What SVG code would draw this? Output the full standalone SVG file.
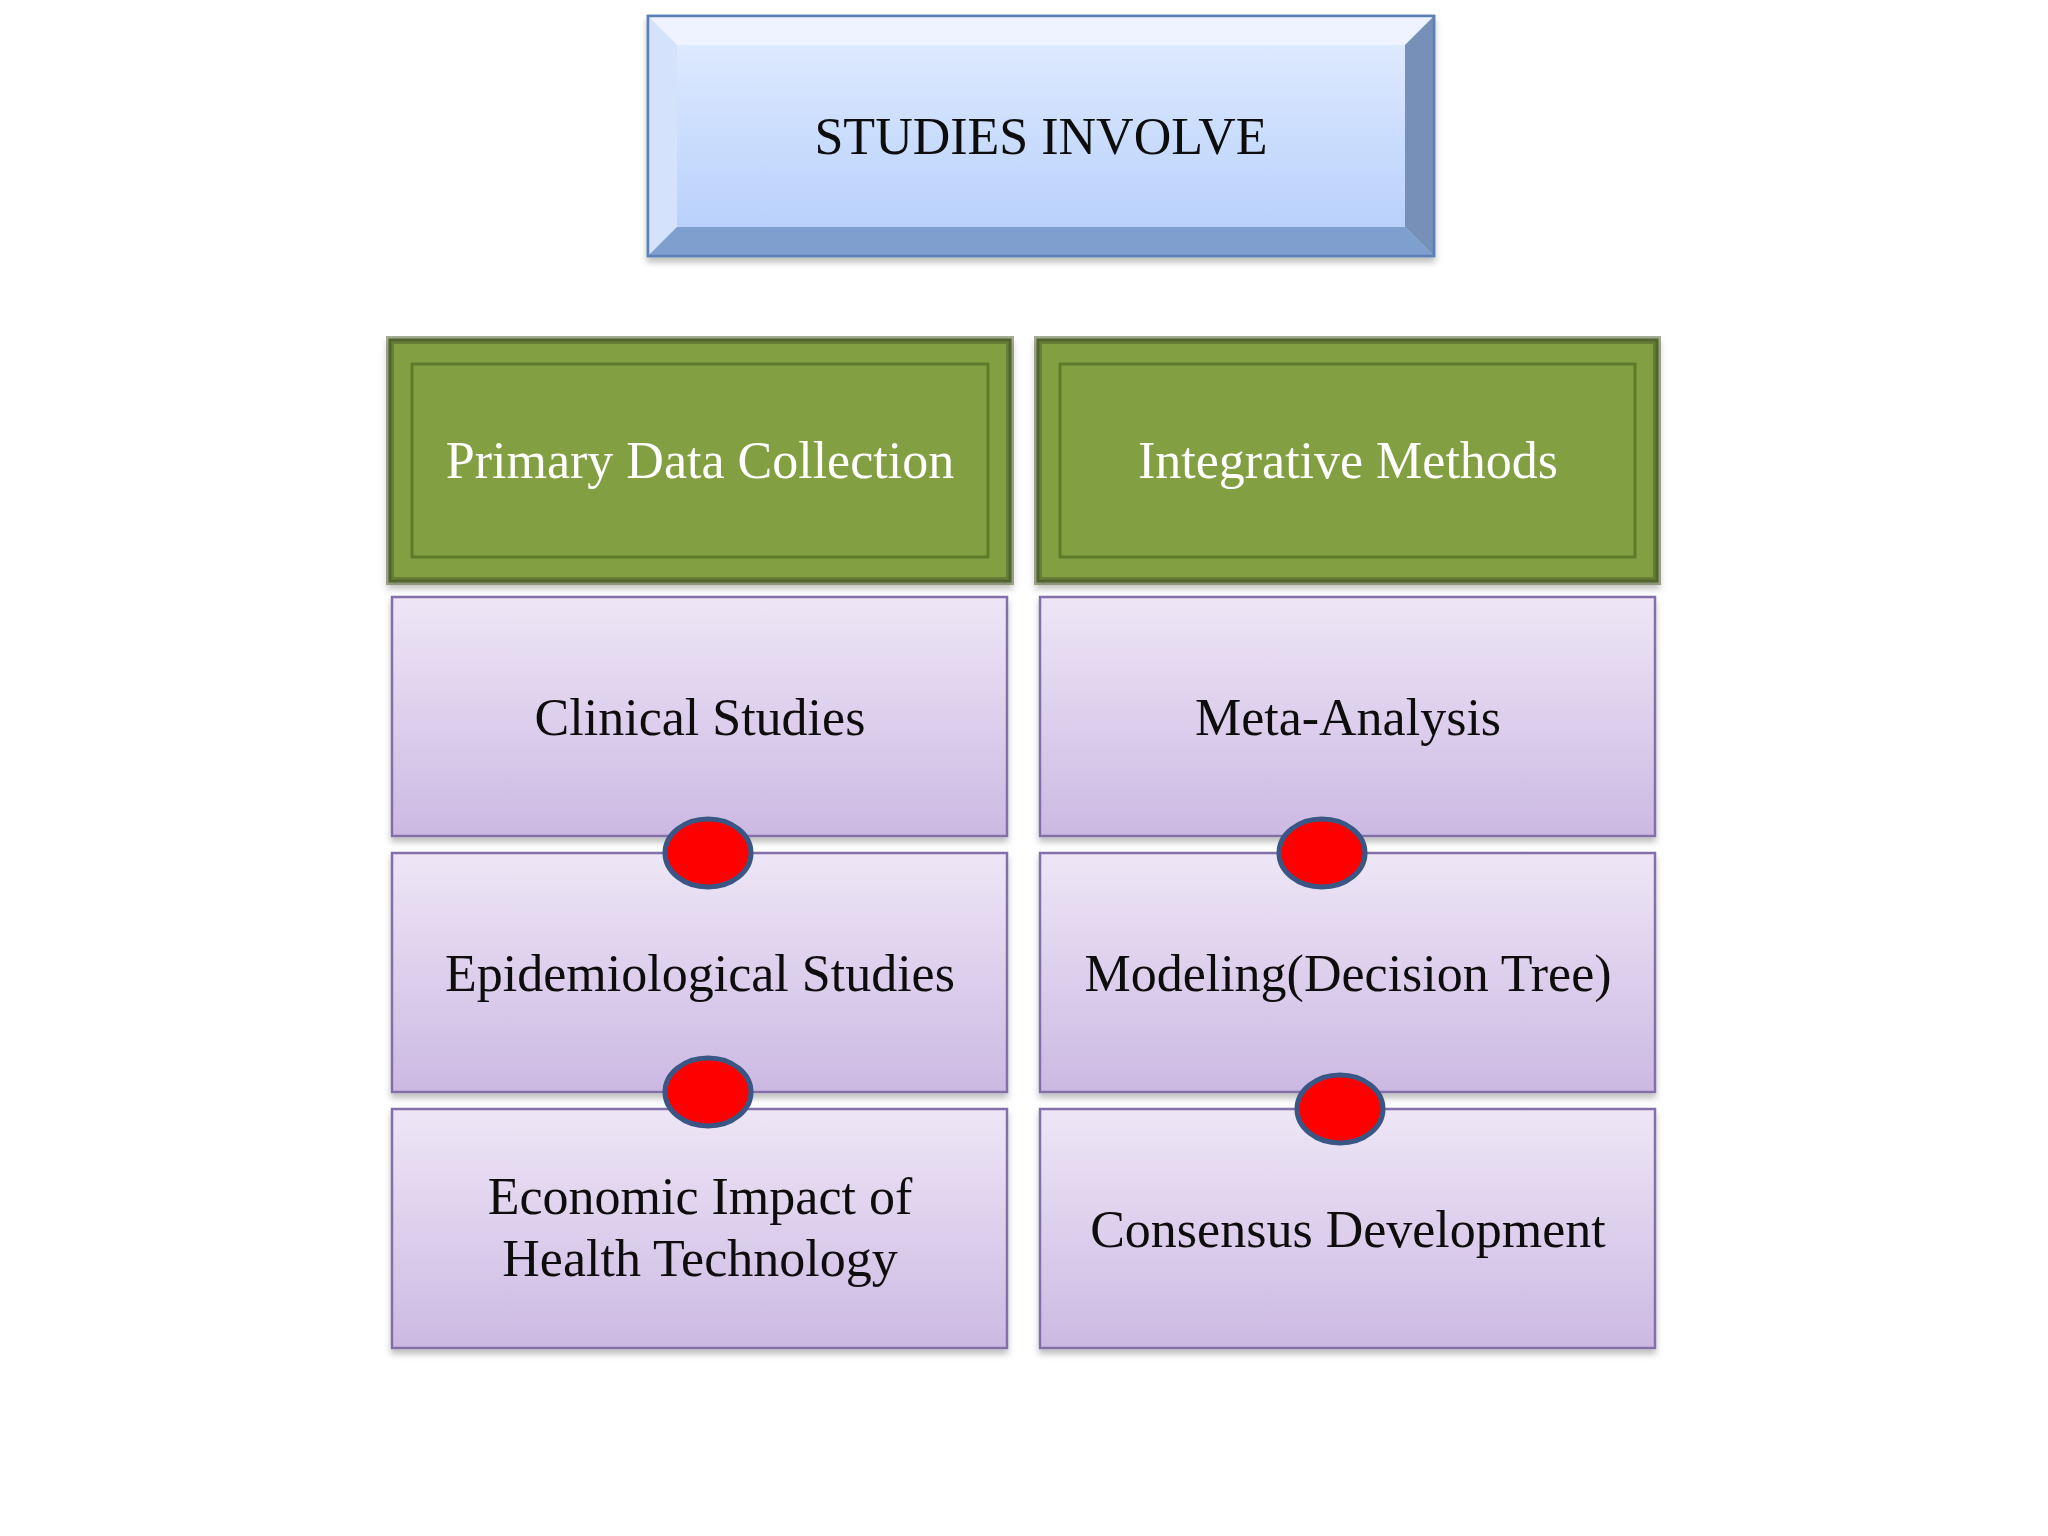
<svg xmlns="http://www.w3.org/2000/svg" width="2048" height="1536" viewBox="0 0 2048 1536">
<defs>
<linearGradient id="blue" x1="0" y1="0" x2="0" y2="1"><stop offset="0" stop-color="#e3edff"/><stop offset="1" stop-color="#b3cdfb"/></linearGradient>
<linearGradient id="purp" x1="0" y1="0" x2="0" y2="1"><stop offset="0" stop-color="#eee6f6"/><stop offset="1" stop-color="#ccb9e3"/></linearGradient>
<filter id="sh" x="-5%" y="-5%" width="110%" height="115%"><feDropShadow dx="0" dy="5" stdDeviation="3" flood-color="#000" flood-opacity="0.25"/></filter>
</defs>
<style>
.t{font-family:"Liberation Serif",serif;font-size:52px;text-anchor:middle;fill:#111}
.w{fill:#fff}
.p{fill:url(#purp);stroke:#8470a8;stroke-width:2.5}
.g{fill:#82a043;stroke:#5c7032;stroke-width:3}
.dot{fill:#ff0000;stroke:#3a5685;stroke-width:5}
</style>
<rect width="2048" height="1536" fill="#fff"/>
<g id="top" filter="url(#sh)">
<rect x="648" y="16" width="786" height="240" fill="url(#blue)" stroke="#5b7fb6" stroke-width="2.5"/>
<polygon points="648,16 1434,16 1405,45 677,45" fill="#eef3ff"/>
<polygon points="648,16 677,45 677,227 648,256" fill="#d4e2fc"/>
<polygon points="1434,16 1434,256 1405,227 1405,45" fill="#7790b8"/>
<polygon points="648,256 677,227 1405,227 1434,256" fill="#7f9fcf"/>
<rect x="648" y="16" width="786" height="240" fill="none" stroke="#5b7fb6" stroke-width="2.5"/>
<text class="t" x="1041" y="154">STUDIES INVOLVE</text>
</g>
<g id="primary" filter="url(#sh)">
<rect class="g" x="390" y="340" width="620" height="241"/>
<rect x="412" y="364" width="576" height="193" fill="none" stroke="#5c7a2c" stroke-width="3"/>
<rect x="390" y="340" width="620" height="241" fill="none" stroke="#4a5a28" stroke-width="8" opacity="0.5"/>
<text class="t w" x="700" y="478">Primary Data Collection</text>
</g>
<g id="integrative" filter="url(#sh)">
<rect class="g" x="1038" y="340" width="619" height="241"/>
<rect x="1060" y="364" width="575" height="193" fill="none" stroke="#5c7a2c" stroke-width="3"/>
<rect x="1038" y="340" width="619" height="241" fill="none" stroke="#4a5a28" stroke-width="8" opacity="0.5"/>
<text class="t w" x="1348" y="478">Integrative Methods</text>
</g>
<g id="clinical" filter="url(#sh)"><rect class="p" x="392" y="597" width="615" height="239"/><text class="t" x="700" y="735">Clinical Studies</text></g>
<g id="epi" filter="url(#sh)"><rect class="p" x="392" y="853" width="615" height="239"/><text class="t" x="700" y="991">Epidemiological Studies</text></g>
<g id="econ" filter="url(#sh)"><rect class="p" x="392" y="1109" width="615" height="239"/><text class="t" x="700" y="1214">Economic Impact of</text><text class="t" x="700" y="1276">Health Technology</text></g>
<g id="meta" filter="url(#sh)"><rect class="p" x="1040" y="597" width="615" height="239"/><text class="t" x="1348" y="735">Meta-Analysis</text></g>
<g id="model" filter="url(#sh)"><rect class="p" x="1040" y="853" width="615" height="239"/><text class="t" x="1348" y="991">Modeling(Decision Tree)</text></g>
<g id="consensus" filter="url(#sh)"><rect class="p" x="1040" y="1109" width="615" height="239"/><text class="t" x="1348" y="1247">Consensus Development</text></g>
<g id="connectors">
<ellipse class="dot" cx="708" cy="853" rx="43" ry="34"/>
<ellipse class="dot" cx="708" cy="1092" rx="43" ry="34"/>
<ellipse class="dot" cx="1322" cy="853" rx="43" ry="34"/>
<ellipse class="dot" cx="1340" cy="1109" rx="43" ry="34"/>
</g>
</svg>
